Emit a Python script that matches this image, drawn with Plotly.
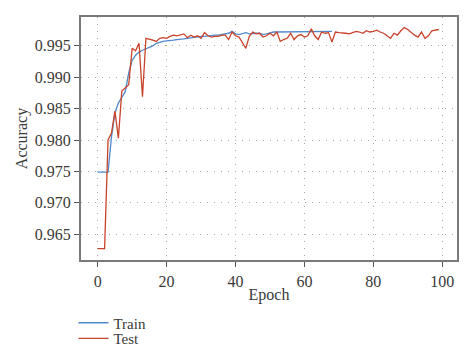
import plotly.graph_objects as go

train_epochs = list(range(0, 69))
train_acc = [
    0.9749, 0.9749, 0.9749, 0.9749, 0.9805, 0.9843, 0.9859, 0.9867, 0.9877, 0.9907,
    0.9927, 0.9935, 0.9940, 0.9943, 0.9945, 0.9947, 0.9950, 0.9954, 0.9956, 0.9957,
    0.9958, 0.9958, 0.9959, 0.9960, 0.9960, 0.9961, 0.9962, 0.9963, 0.9963, 0.9964,
    0.9965, 0.9965, 0.9966, 0.9966, 0.9967, 0.9967, 0.9968, 0.9969, 0.9970, 0.9973,
    0.9969, 0.9968, 0.9970, 0.9971, 0.9969, 0.9970, 0.9970, 0.9970, 0.9968, 0.9969,
    0.9971, 0.9972, 0.9972, 0.9972, 0.9972, 0.9972, 0.9972, 0.9973, 0.9972, 0.9972,
    0.9973, 0.9973, 0.9972, 0.9972, 0.9973, 0.9973, 0.9973, 0.9973, 0.9973,
]

test_epochs = list(range(0, 100))
test_acc = [
    0.9627, 0.9627, 0.9627, 0.9800, 0.9811, 0.9846, 0.9803, 0.9878, 0.9883, 0.9888,
    0.9946, 0.9942, 0.9954, 0.9869, 0.9962, 0.9961, 0.9959, 0.9957, 0.9962, 0.9963,
    0.9962, 0.9965, 0.9967, 0.9966, 0.9968, 0.9969, 0.9963, 0.9967, 0.9964, 0.9966,
    0.9962, 0.9971, 0.9966, 0.9964, 0.9965, 0.9965, 0.9967, 0.9967, 0.9960, 0.9972,
    0.9966, 0.9964, 0.9955, 0.9946, 0.9965, 0.9972, 0.9969, 0.9970, 0.9964, 0.9966,
    0.9970, 0.9966, 0.9972, 0.9957, 0.9960, 0.9962, 0.9970, 0.9960, 0.9966, 0.9968,
    0.9964, 0.9966, 0.9977, 0.9966, 0.9960, 0.9972, 0.9970, 0.9971, 0.9956, 0.9972,
    0.9971, 0.9971, 0.9970, 0.9969, 0.9971, 0.9973, 0.9972, 0.9970, 0.9974, 0.9972,
    0.9973, 0.9975, 0.9972, 0.9970, 0.9966, 0.9962, 0.9970, 0.9967, 0.9974, 0.9979,
    0.9976, 0.9971, 0.9967, 0.9964, 0.9972, 0.9962, 0.9966, 0.9974, 0.9975, 0.9976,
]

x_ticks = [0, 20, 40, 60, 80, 100]
y_ticks = [0.965, 0.970, 0.975, 0.980, 0.985, 0.990, 0.995]

font_family = "Liberation Serif, DejaVu Serif, serif"
text_color = "#3a3a3a"

fig = go.Figure()
fig.add_trace(go.Scatter(x=train_epochs, y=train_acc, mode="lines", name="Train",
                         line=dict(color="#5089cc", width=1.3), legend="legend"))
fig.add_trace(go.Scatter(x=test_epochs, y=test_acc, mode="lines", name="Test",
                         line=dict(color="#c8432b", width=1.3), legend="legend2"))

axis_common = dict(
    showline=True, linecolor="#7a7a7a", linewidth=2, mirror=True,
    ticks="outside", ticklen=5, tickcolor="#555555", tickwidth=1,
    showgrid=True, gridcolor="#a8a8a8", griddash="1px,6px", gridwidth=1.2,
    zeroline=False, automargin=False,
    tickfont=dict(family=font_family, size=16, color=text_color),
)

fig.update_xaxes(range=[-4.85, 104.3], tickvals=x_ticks, ticklabelstandoff=1,
                 title=dict(text="Epoch", font=dict(family=font_family, size=16, color=text_color), standoff=0),
                 **axis_common)
fig.update_yaxes(range=[0.96089, 0.99959], tickvals=y_ticks, tickformat=".3f",
                 title=dict(text="Accuracy", font=dict(family=font_family, size=16, color=text_color), standoff=3),
                 **axis_common)

legend_common = dict(x=-0.02, xanchor="left", yanchor="middle",
                     font=dict(family=font_family, size=15, color=text_color),
                     bgcolor="rgba(0,0,0,0)", borderwidth=0)

fig.update_layout(
    width=466, height=355,
    margin=dict(l=73, r=17, t=9, b=102),
    plot_bgcolor="white", paper_bgcolor="white",
    showlegend=True,
    legend=dict(y=-0.254, **legend_common),
    legend2=dict(y=-0.318, **legend_common),
)

fig.write_html("out.html")
